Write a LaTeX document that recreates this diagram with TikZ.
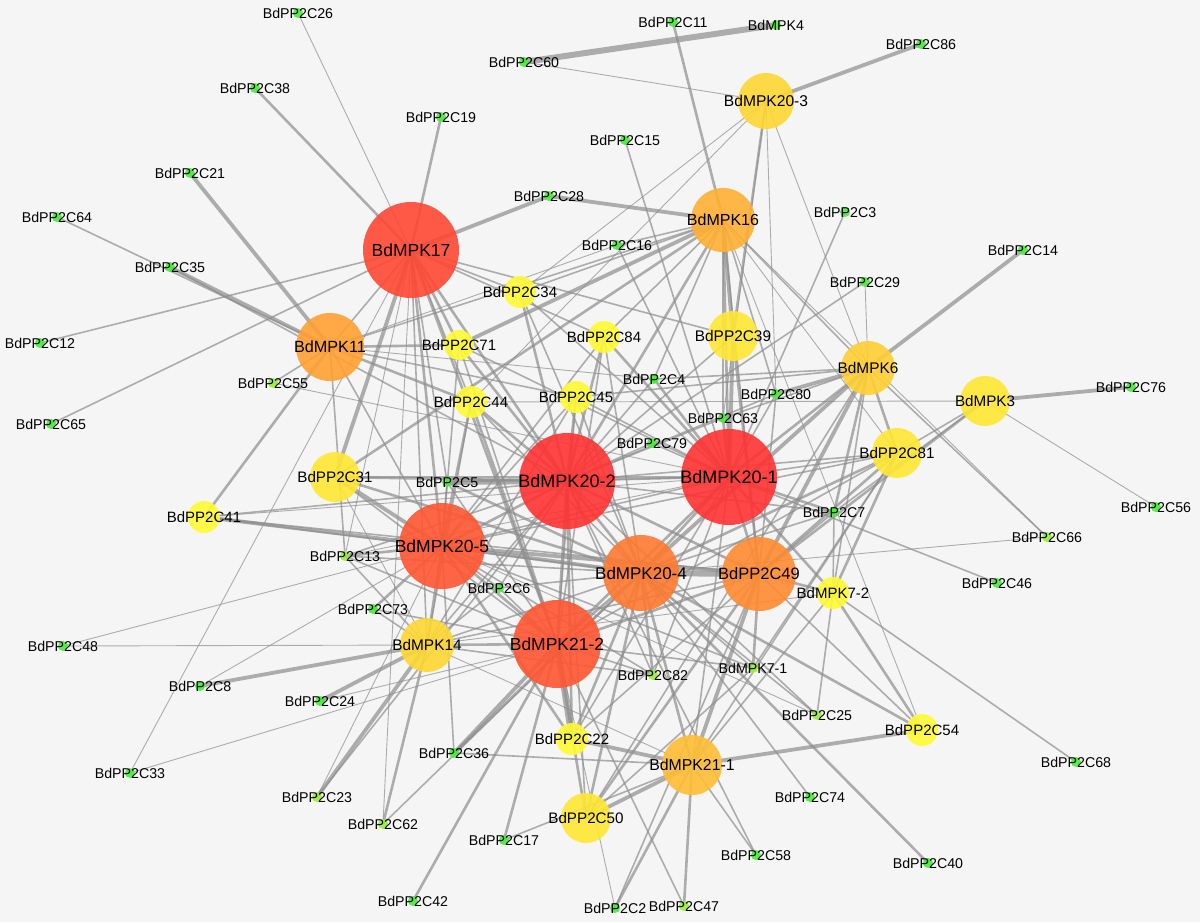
\documentclass[tikz,border=0pt]{standalone}
\usepackage{fontspec}
\setmainfont{Liberation Sans}
\pgfdeclarelayer{background}
\pgfdeclarelayer{fg}
\pgfsetlayers{background,main,fg}
\definecolor{bgc}{HTML}{F5F5F5}
\definecolor{edgec}{HTML}{8E8E8E}
\definecolor{cRed}{HTML}{FF3333}
\definecolor{cSeventeen}{HTML}{FF4833}
\definecolor{cRO}{HTML}{FF5631}
\definecolor{cOa}{HTML}{FF7A32}
\definecolor{cOb}{HTML}{FF8B32}
\definecolor{cOc}{HTML}{FFA033}
\definecolor{cOd}{HTML}{FFB034}
\definecolor{cOe}{HTML}{FFBE34}
\definecolor{cYa}{HTML}{FFCF33}
\definecolor{cYb}{HTML}{FFD733}
\definecolor{cYc}{HTML}{FFE733}
\definecolor{cYd}{HTML}{FFFA33}
\definecolor{cG}{HTML}{45EE35}
\definecolor{cGY}{HTML}{9BEE33}
\tikzset{
  vtx/.style={circle,inner sep=0pt,fill opacity=0.9,draw=none},
  lbl/.style={inner sep=0pt,text=black},
  ez/.style={draw=edgec,draw opacity=0.7,line width=0.9pt},
  ea/.style={draw=edgec,draw opacity=0.7,line width=1.6pt},
  eb/.style={draw=edgec,draw opacity=0.7,line width=2.6pt},
  ec/.style={draw=edgec,draw opacity=0.7,line width=3.8pt},
  ed/.style={draw=edgec,draw opacity=0.7,line width=6pt},
}
% name, x, y, diameter, colour, font size, text
\newcommand\mknode[7]{%
  \node[vtx,fill=#5,minimum size=#4pt] (#1) at (#2,#3) {};
  \begin{pgfonlayer}{fg}\node[lbl,font=\fontsize{#6}{#6}\selectfont] at (#1) {#7};\end{pgfonlayer}}
\begin{document}
\begin{tikzpicture}[x=1pt,y=-1pt]
\begin{pgfonlayer}{background}
\fill[bgc] (0,0) rectangle (1200,922);
\end{pgfonlayer}
\useasboundingbox (0,0) rectangle (1200,922);
% large / coloured nodes
\mknode{m17}{411}{250}{96}{cSeventeen}{17.5}{BdMPK17}
\mknode{m202}{567}{481}{96}{cRed}{18}{BdMPK20-2}
\mknode{m201}{729}{477}{96}{cRed}{18}{BdMPK20-1}
\mknode{m205}{442}{546}{86}{cRO}{17.5}{BdMPK20-5}
\mknode{m212}{557}{644}{88}{cRO}{17.5}{BdMPK21-2}
\mknode{m204}{641}{573}{76}{cOa}{17}{BdMPK20-4}
\mknode{p49}{759}{574}{74}{cOb}{16.5}{BdPP2C49}
\mknode{m11}{330}{347}{68}{cOc}{16.2}{BdMPK11}
\mknode{m16}{723}{220}{64}{cOd}{16}{BdMPK16}
\mknode{m211}{692}{765}{60}{cOe}{15.8}{BdMPK21-1}
\mknode{m203}{766}{101}{56}{cYb}{15.6}{BdMPK20-3}
\mknode{m6}{868}{368}{54}{cYa}{15.4}{BdMPK6}
\mknode{m14}{427}{645}{54}{cYb}{15.4}{BdMPK14}
\mknode{p39}{733}{336}{50}{cYc}{15.4}{BdPP2C39}
\mknode{m3}{985}{401}{50}{cYc}{15.2}{BdMPK3}
\mknode{p81}{897}{453}{50}{cYc}{15.2}{BdPP2C81}
\mknode{p31}{335}{477}{50}{cYc}{15.2}{BdPP2C31}
\mknode{p50}{586}{818}{50}{cYc}{15.2}{BdPP2C50}
\mknode{p34}{520}{292}{32}{cYd}{15}{BdPP2C34}
\mknode{p84}{604}{337}{32}{cYd}{15}{BdPP2C84}
\mknode{p71}{459}{345}{30}{cYd}{15}{BdPP2C71}
\mknode{p44}{471}{402}{32}{cYd}{15}{BdPP2C44}
\mknode{p45}{576}{397}{32}{cYd}{15}{BdPP2C45}
\mknode{p41}{204}{517}{32}{cYd}{15}{BdPP2C41}
\mknode{m72}{833}{593}{32}{cYd}{15}{BdMPK7-2}
\mknode{p22}{572}{739}{32}{cYd}{15}{BdPP2C22}
\mknode{p54}{922}{730}{32}{cYd}{15}{BdPP2C54}
% small nodes
\mknode{p26}{298}{13}{10}{cG}{14.2}{BdPP2C26}
\mknode{p38}{255}{88}{10}{cG}{14.2}{BdPP2C38}
\mknode{p19}{441}{117}{10}{cG}{14.2}{BdPP2C19}
\mknode{p21}{190}{173}{10}{cG}{14.2}{BdPP2C21}
\mknode{p64}{57}{217}{10}{cG}{14.2}{BdPP2C64}
\mknode{p35}{170}{267}{10}{cG}{14.2}{BdPP2C35}
\mknode{p12}{40}{343}{10}{cG}{14.2}{BdPP2C12}
\mknode{p65}{51}{424}{10}{cG}{14.2}{BdPP2C65}
\mknode{p55}{273}{383}{10}{cGY}{14.2}{BdPP2C55}
\mknode{p13}{345}{556}{10}{cGY}{14.2}{BdPP2C13}
\mknode{p73}{373}{609}{10}{cG}{14.2}{BdPP2C73}
\mknode{p48}{63}{646}{10}{cG}{14.2}{BdPP2C48}
\mknode{p8}{200}{686}{10}{cG}{14.2}{BdPP2C8}
\mknode{p24}{320}{701}{10}{cG}{14.2}{BdPP2C24}
\mknode{p33}{130}{773}{10}{cG}{14.2}{BdPP2C33}
\mknode{p23}{317}{797}{10}{cGY}{14.2}{BdPP2C23}
\mknode{p62}{383}{824}{10}{cGY}{14.2}{BdPP2C62}
\mknode{p36}{454}{753}{10}{cG}{14.2}{BdPP2C36}
\mknode{p42}{413}{901}{10}{cG}{14.2}{BdPP2C42}
\mknode{p17}{504}{840}{10}{cG}{14.2}{BdPP2C17}
\mknode{p2}{615}{908}{10}{cG}{14.2}{BdPP2C2}
\mknode{p47}{684}{906}{10}{cGY}{14.2}{BdPP2C47}
\mknode{p58}{756}{855}{10}{cG}{14.2}{BdPP2C58}
\mknode{p74}{810}{797}{10}{cG}{14.2}{BdPP2C74}
\mknode{p40}{928}{863}{10}{cG}{14.2}{BdPP2C40}
\mknode{p68}{1076}{762}{10}{cG}{14.2}{BdPP2C68}
\mknode{p25}{817}{715}{10}{cGY}{14.2}{BdPP2C25}
\mknode{m71}{753}{668}{10}{cGY}{14.2}{BdMPK7-1}
\mknode{p82}{653}{675}{10}{cGY}{14.2}{BdPP2C82}
\mknode{p6}{499}{588}{10}{cG}{14.2}{BdPP2C6}
\mknode{p5}{447}{482}{10}{cG}{14.2}{BdPP2C5}
\mknode{p79}{652}{443}{10}{cG}{14.2}{BdPP2C79}
\mknode{p63}{723}{418}{10}{cG}{14.2}{BdPP2C63}
\mknode{p4}{654}{379}{10}{cG}{14.2}{BdPP2C4}
\mknode{p80}{776}{394}{10}{cG}{14.2}{BdPP2C80}
\mknode{p7}{834}{512}{10}{cG}{14.2}{BdPP2C7}
\mknode{p66}{1047}{537}{10}{cGY}{14.2}{BdPP2C66}
\mknode{p46}{997}{583}{10}{cG}{14.2}{BdPP2C46}
\mknode{p56}{1156}{507}{10}{cG}{14.2}{BdPP2C56}
\mknode{p76}{1131}{387}{10}{cG}{14.2}{BdPP2C76}
\mknode{p14}{1023}{250}{10}{cG}{14.2}{BdPP2C14}
\mknode{p29}{865}{282}{10}{cG}{14.2}{BdPP2C29}
\mknode{p3}{845}{212}{10}{cG}{14.2}{BdPP2C3}
\mknode{p16}{617}{245}{10}{cG}{14.2}{BdPP2C16}
\mknode{p15}{625}{140}{10}{cG}{14.2}{BdPP2C15}
\mknode{p28}{549}{196}{10}{cG}{14.2}{BdPP2C28}
\mknode{p60}{524}{62}{10}{cG}{14.2}{BdPP2C60}
\mknode{p11}{673}{22}{10}{cG}{14.2}{BdPP2C11}
\mknode{m4}{776}{25}{10}{cG}{14.2}{BdMPK4}
\mknode{p86}{921}{44}{10}{cG}{14.2}{BdPP2C86}
% edges
\begin{pgfonlayer}{background}
\foreach \a/\b in {m17/p26,m17/p33,m17/p62,m17/p13,m11/p16,m11/p4,p55/m201,
  m201/p41,m201/p13,m205/p48,m205/p8,m205/p23,m205/p25,m212/p33,m212/p2,m212/p24,
  m204/p66,m6/m203,m6/p29,m3/p56,m3/p44,m203/p60,m203/p34,m203/p44,m203/p63,m203/p80,
  m16/p66,m16/p54,m16/p81,m211/m14,m14/p48,m14/m72,m14/p31}
  \draw[ez] (\a.center) -- (\b.center);
\foreach \a/\b in {m17/p12,m17/p65,m17/p44,m17/p34,m17/p84,m17/p39,m17/p5,m17/m11,m17/m14,
  m11/p64,m11/p55,m11/p45,m11/m205,m11/p13,
  m202/p79,m202/p4,m202/p41,m202/p6,m202/p50,m202/m14,m202/p13,m202/p82,m202/p81,m202/p39,
  m202/p63,m202/p80,m202/p29,m202/p35,m202/p23,m202/p58,m202/p25,m202/m201,m202/p7,
  m201/p79,m201/p45,m201/p80,m201/p81,m201/p82,m201/p5,m201/p31,m201/p3,m201/p15,m201/p16,
  m201/p46,m201/p34,m201/m211,m201/p22,m201/p71,m201/m205,
  m205/p6,m205/p71,m205/p5,m205/p36,m205/p81,m205/p82,m205/p45,m205/p84,m205/m71,
  m212/p6,m212/p73,m212/p13,m212/p82,m212/m71,m212/p81,m212/p45,m212/p71,m212/p31,m212/p47,
  m212/p84,m212/p5,
  m204/p6,m204/m71,m204/p62,m204/p74,m204/p7,m204/p84,m204/p45,m204/p44,m204/p34,m204/m14,
  m204/p41,m204/p25,m204/p13,
  p49/p7,p49/p22,p49/m16,p49/p80,p49/m14,p49/p54,p49/p2,p49/p41,
  m6/p63,m6/m72,m6/p66,m6/m16,m6/p4,m6/p45,m6/p50,m3/p81,m3/p7,
  m16/p84,m16/p4,m16/p80,m16/p34,m16/p16,m16/m11,
  m211/p17,m211/p58,m211/m72,m211/p81,m211/p36,
  m14/p73,m14/p13,m14/p6,m14/p82,m14/p45,m14/p44,
  m72/p68,m72/p25,m72/p7,m71/p50,m71/p81}
  \draw[ea] (\a.center) -- (\b.center);
\foreach \a/\b in {m17/p38,m17/p19,m17/p71,m17/m202,m17/m212,m17/m205,
  m11/p41,m11/p71,m11/p44,
  m202/p44,m202/p45,m202/p84,m202/p71,m202/p34,m202/p31,m202/m205,m202/m212,m202/m204,
  m202/p49,m202/p22,m202/m16,
  m201/p63,m201/p4,m201/p84,m201/m16,m201/m6,m201/p7,m201/p49,m201/m72,m201/m204,m201/m212,
  m205/p13,m205/p73,m205/m14,m205/m212,m205/p44,m205/p22,
  m212/p50,m212/p17,m212/p42,m212/m14,m212/p49,m212/m204,m212/p44,
  m204/p5,m204/p31,m204/p82,m204/p54,m204/p22,m204/p50,m204/p36,m204/m211,m204/p40,m204/p81,
  p49/m72,p49/m71,p49/p50,p49/p39,p49/m3,p49/p81,
  m6/p81,m6/p7,m203/p39,
  m16/p11,m16/p63,m16/p31,m211/p2,m211/p47,m14/p62,m72/p54,m72/p81}
  \draw[eb] (\a.center) -- (\b.center);
\foreach \a/\b in {m17/p28,m17/p31,m11/p21,m11/p35,m201/p39,m205/p41,m205/p31,m205/m204,
  m205/p49,m212/p36,p49/m6,p49/m211,m6/p14,m6/p80,m3/p76,m203/p86,
  m16/p28,m16/p39,m16/p71,m211/p54,m211/p22,m211/p50,m14/p8,m14/p24,m14/p23,m204/m6}
  \draw[ec] (\a.center) -- (\b.center);
\foreach \a/\b in {m202/p5,m212/p22,m204/p49,m4/p60}
  \draw[ed] (\a.center) -- (\b.center);
\end{pgfonlayer}
\end{tikzpicture}
\end{document}
